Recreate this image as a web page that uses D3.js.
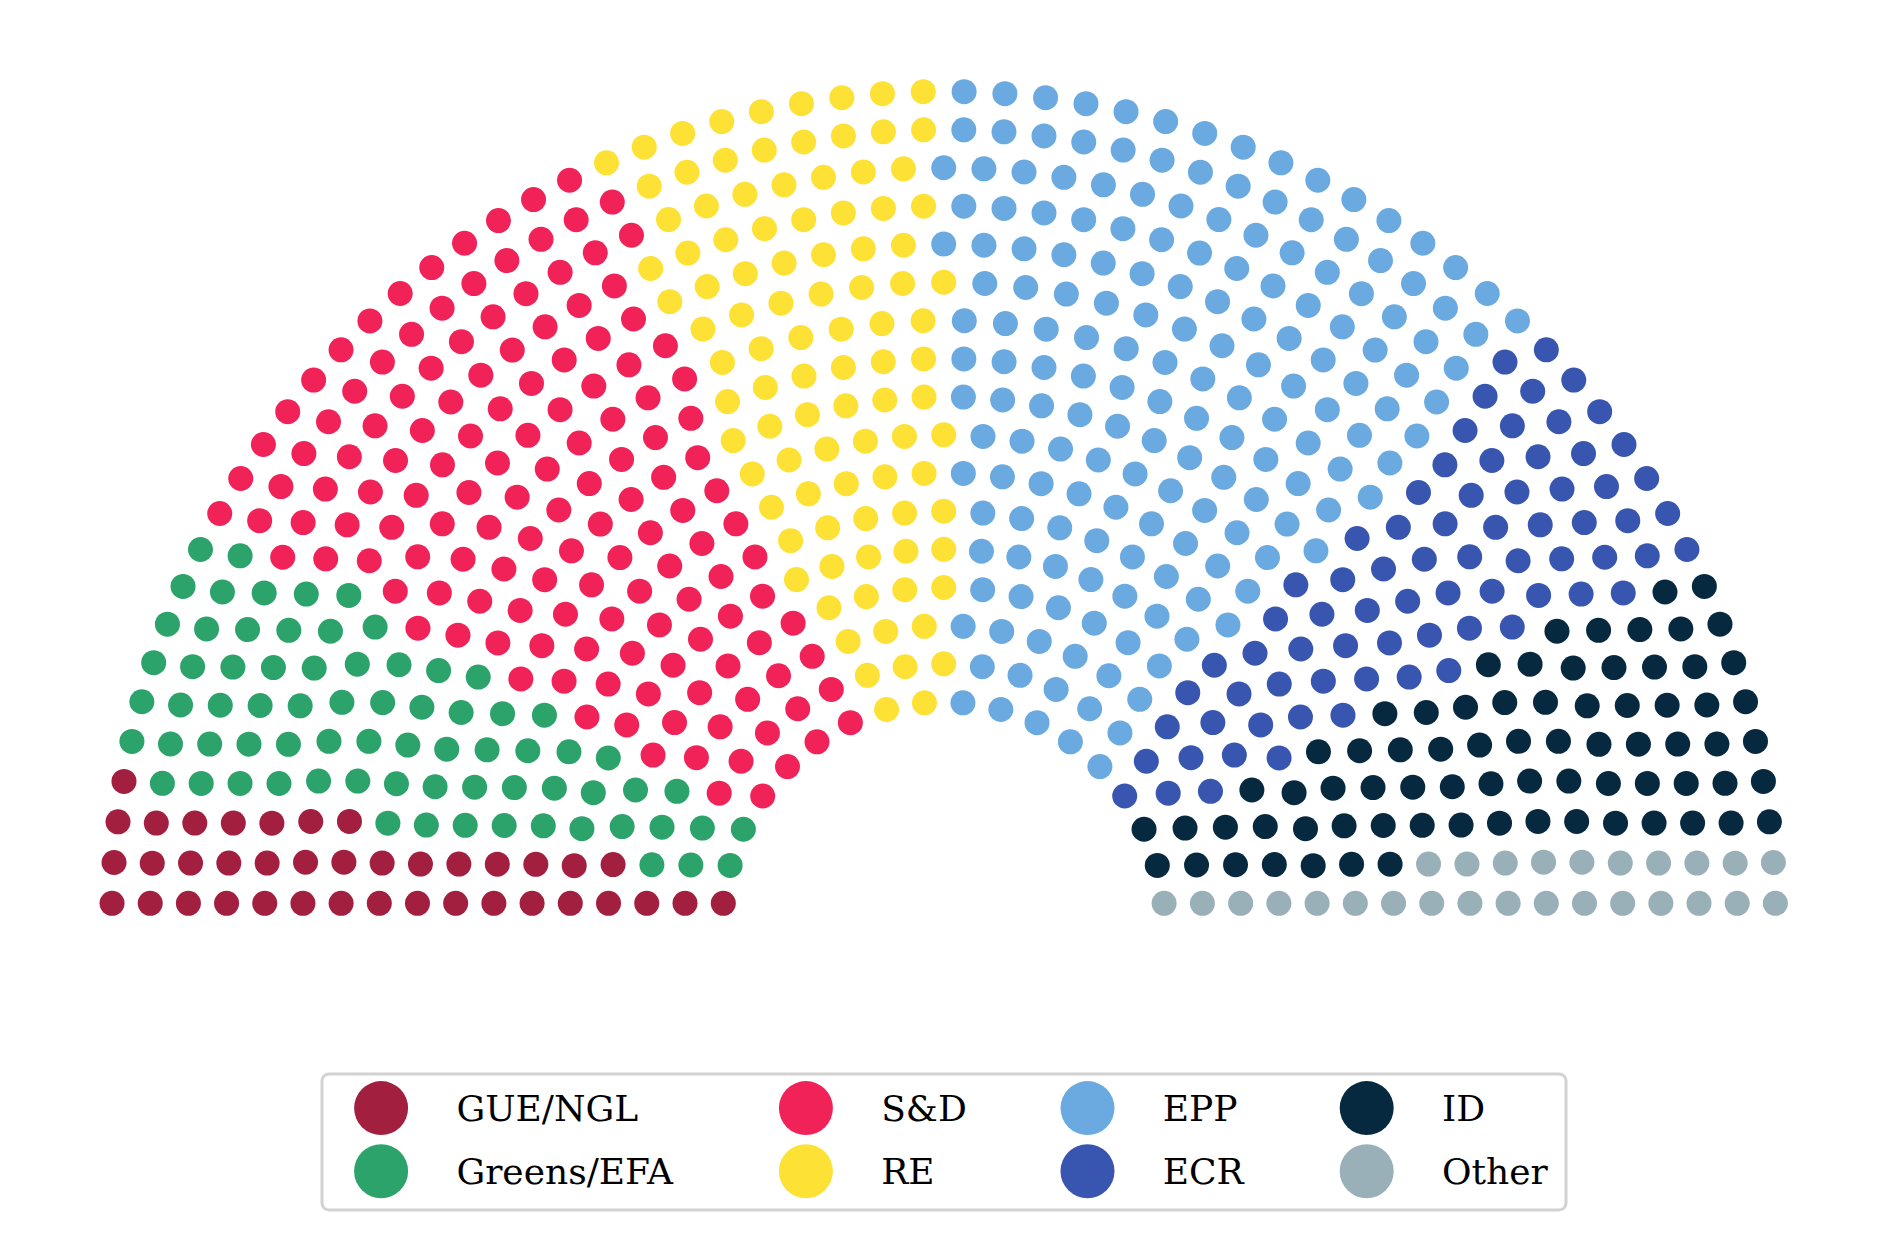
<!DOCTYPE html>
<html>
<head>
<meta charset="utf-8">
<script src="https://cdn.jsdelivr.net/npm/d3@7"></script>
<style>
  html, body { margin: 0; padding: 0; background: #ffffff; }
  svg { display: block; }
</style>
</head>
<body>
<svg id="chart" width="1903" height="1248"></svg>
<script>
// ---------------- data ----------------
const parties = ["GUE/NGL", "Greens/EFA", "S&D", "RE", "EPP", "ECR", "ID", "Other"];
const seats   = [39, 73, 145, 97, 175, 74, 74, 27];
const colors  = ["#a31f40", "#2ca36a", "#f02258", "#fee135", "#6aaae0", "#3856b0", "#07293f", "#99b0b9"];
// seats on each arc, from innermost to outermost
const rowSeats = [18, 21, 24, 27, 31, 33, 36, 39, 42, 44, 46, 49, 53, 56, 59, 62, 64];

// ---------------- layout ----------------
const W = 1903, H = 1248;
const cx = 943.7, cy = 923.3, Rpx = 831.9;     // hemicycle centre and outer radius (px)
const rInner = 0.26602;                        // inner radius / outer radius
const gap = 0.024042;                          // lift of the end seats above the centre line
const sortShift = 0.0054;                      // seats are ordered by angle seen from a point just right of centre
const dotR = 12.5;

const svg = d3.select("#chart");
svg.append("rect").attr("width", W).attr("height", H).attr("fill", "#fff");

const x = d3.scaleLinear().domain([-1, 1]).range([cx - Rpx, cx + Rpx]);
const y = d3.scaleLinear().domain([0, 1]).range([cy, cy - Rpx]);

const nRows = rowSeats.length;
const seatList = [];
rowSeats.forEach((n, i) => {
  const r = rInner + i * (1 - rInner) / (nRows - 1);
  const a0 = Math.asin(gap / r);
  const step = (Math.PI - 2 * a0) / (n - 1);
  for (let k = 0; k < n; k++) {
    const t = a0 + k * step;
    const px = -r * Math.cos(t), py = r * Math.sin(t);
    seatList.push({ r: r, px: px, py: py, key: Math.atan2(py, -(px - sortShift)) });
  }
});
seatList.sort((a, b) => a.key - b.key);
let idx = 0;
parties.forEach((p, j) => {
  for (let c = 0; c < seats[j]; c++) { if (idx < seatList.length) seatList[idx++].party = j; }
});

svg.append("g").attr("class", "seats")
  .selectAll("circle")
  .data(seatList)
  .join("circle")
  .attr("cx", d => x(d.px))
  .attr("cy", d => y(d.py))
  .attr("r", dotR)
  .attr("fill", d => colors[d.party]);

// ---------------- legend ----------------
const legend = svg.append("g").attr("class", "legend");
legend.append("rect")
  .attr("x", 322).attr("y", 1074)
  .attr("width", 1244).attr("height", 136)
  .attr("rx", 7).attr("ry", 7)
  .attr("fill", "#fff")
  .attr("stroke", "#d2d2d2")
  .attr("stroke-width", 3);

const colX = [381.1, 805.9, 1087.5, 1366.7];
const rowY = [1108.1, 1171.2];
const textOffset = 75.3;
const fontSize = 36;

const items = legend.selectAll("g.item")
  .data(parties.map((p, i) => ({ name: p, color: colors[i], col: Math.floor(i / 2), row: i % 2 })))
  .join("g")
  .attr("class", "item")
  .attr("transform", d => `translate(${colX[d.col]},${rowY[d.row]})`);

items.append("circle").attr("r", 27).attr("fill", d => d.color);
items.append("text")
  .attr("x", textOffset)
  .attr("y", fontSize * 0.36)
  .attr("font-family", "'DejaVu Serif', serif")
  .attr("font-size", fontSize)
  .attr("fill", "#000")
  .text(d => d.name);
</script>
</body>
</html>
